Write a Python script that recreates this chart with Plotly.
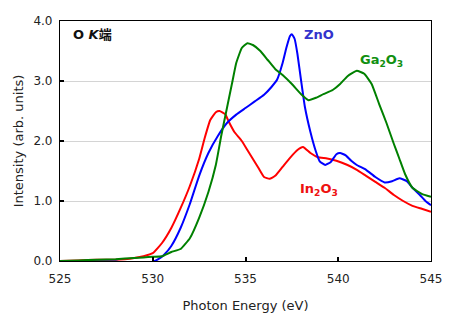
import plotly.graph_objects as go

# O K-edge spectra (photon energy in eV, intensity in arb. units)
in2o3_e = [525, 526, 527, 528, 528.5, 529, 529.5, 530, 530.5, 531, 531.5, 532, 532.5, 532.8,
           533.1, 533.4, 533.6, 533.9, 534.1, 534.4, 534.8, 535.1, 535.4, 535.7, 536.0, 536.3,
           536.6, 537.0, 537.4, 537.8, 538.1, 538.5, 538.9, 539.4, 539.9, 540.5, 541.0, 541.5,
           542.0, 542.5, 543.0, 543.5, 544.0, 544.5, 545.0]
in2o3_i = [0.0, 0.01, 0.02, 0.02, 0.03, 0.05, 0.08, 0.13, 0.30, 0.55, 0.88, 1.25, 1.70, 2.05,
           2.35, 2.48, 2.50, 2.45, 2.32, 2.15, 2.00, 1.85, 1.70, 1.55, 1.40, 1.37,
           1.42, 1.57, 1.72, 1.85, 1.90, 1.80, 1.73, 1.71, 1.67, 1.60, 1.52, 1.42,
           1.32, 1.22, 1.10, 1.00, 0.92, 0.87, 0.82]

zno_e = [525, 526, 527, 528, 528.5, 529, 529.5, 530, 530.3, 530.6, 531, 531.5, 532, 532.5,
         533.0, 533.5, 534.0, 534.5, 535.0, 535.5, 536.0, 536.4, 536.7, 537.0, 537.2, 537.4,
         537.5, 537.65, 537.8, 538.0, 538.2, 538.5, 538.8, 539.0, 539.3, 539.6, 539.9, 540.1,
         540.4, 540.7, 541.0, 541.5, 542.0, 542.5, 542.9, 543.3, 543.7, 544.0, 544.4, 544.7, 545.0]
zno_i = [0.0, 0.0, -0.01, -0.01, -0.03, -0.04, -0.03, -0.01, 0.03, 0.10, 0.25, 0.55, 0.95, 1.42,
         1.80, 2.08, 2.30, 2.44, 2.55, 2.66, 2.77, 2.90, 3.02, 3.30, 3.55, 3.75,
         3.78, 3.70, 3.45, 3.00, 2.57, 2.15, 1.82, 1.66, 1.60, 1.65, 1.78, 1.80,
         1.76, 1.67, 1.60, 1.52, 1.40, 1.31, 1.33, 1.38, 1.33, 1.22, 1.10, 1.00, 0.93]

ga2o3_e = [525, 526, 527, 528, 529, 529.5, 530, 530.5, 531, 531.5, 532, 532.5, 533.0, 533.4,
           533.7, 534.0, 534.3, 534.5, 534.8, 535.1, 535.4, 535.8, 536.2, 536.6, 537.0, 537.5,
           538.0, 538.4, 538.8, 539.2, 539.7, 540.1, 540.5, 541.0, 541.4, 541.8, 542.2, 542.6,
           543.0, 543.3, 543.6, 544.0, 544.5, 545.0]
ga2o3_i = [0.0, 0.01, 0.02, 0.03, 0.05, 0.06, 0.07, 0.08, 0.15, 0.20, 0.38, 0.72, 1.15, 1.60,
           2.10, 2.55, 3.00, 3.30, 3.55, 3.63, 3.60, 3.50, 3.35, 3.20, 3.10, 2.95,
           2.78, 2.68, 2.72, 2.78, 2.85, 2.95, 3.08, 3.17, 3.12, 2.95, 2.62, 2.30,
           1.95, 1.70, 1.45, 1.22, 1.12, 1.07]

x_ticks = [525, 530, 535, 540, 545]
y_ticks = [0, 1, 2, 3, 4]
y_tick_text = ["0.0", "1.0", "2.0", "3.0", "4.0"]

FONT = "DejaVu Sans"

fig = go.Figure()
for e, i, col in [(in2o3_e, in2o3_i, "#ff0000"),
                  (zno_e, zno_i, "#0000ff"),
                  (ga2o3_e, ga2o3_i, "#008000")]:
    fig.add_trace(go.Scatter(x=e, y=i, mode="lines",
                             line=dict(color=col, width=2, shape="spline", smoothing=0.4),
                             showlegend=False, hoverinfo="skip"))

labels = [
    ("ZnO", 538.05, 3.77, "#3333cc"),
    ("Ga<sub>2</sub>O<sub>3</sub>", 541.06, 3.35, "#119011"),
    ("In<sub>2</sub>O<sub>3</sub>", 537.83, 1.2, "#ee1111"),
]
for txt, x, y, col in labels:
    fig.add_annotation(x=x, y=y, text=f"<b>{txt}</b>", showarrow=False,
                       xanchor="left", yanchor="middle",
                       font=dict(family=FONT, size=13, color=col))

fig.add_annotation(x=0.03, y=0.942, xref="paper", yref="paper",
                   text="<b>O <i>K</i>端</b>", showarrow=False,
                   xanchor="left", yanchor="middle",
                   font=dict(family=FONT + ", Noto Sans CJK JP", size=13, color="#111111"))

fig.update_layout(
    width=455, height=325,
    margin=dict(l=60, r=24, t=21, b=64),
    paper_bgcolor="white", plot_bgcolor="white",
    font=dict(family=FONT, size=12, color="#222222"),
)
fig.update_xaxes(
    range=[525, 545], tickvals=x_ticks,
    ticks="inside", ticklen=4, tickwidth=1.5, tickcolor="black",
    ticklabelstandoff=6,
    showline=True, linecolor="black", linewidth=1.2, mirror=True,
    showgrid=False, zeroline=False,
    title=dict(text="Photon Energy (eV)", font=dict(size=13), standoff=16),
)
fig.update_yaxes(
    range=[0, 4], tickvals=y_ticks, ticktext=y_tick_text,
    ticks="inside", ticklen=4, tickwidth=1.5, tickcolor="black",
    ticklabelstandoff=4,
    showline=True, linecolor="black", linewidth=1.2, mirror=True,
    showgrid=True, gridcolor="#d4d4d4", gridwidth=1, zeroline=False,
    title=dict(text="Intensity (arb. units)", font=dict(size=13), standoff=6),
)

fig.write_html("out.html")
